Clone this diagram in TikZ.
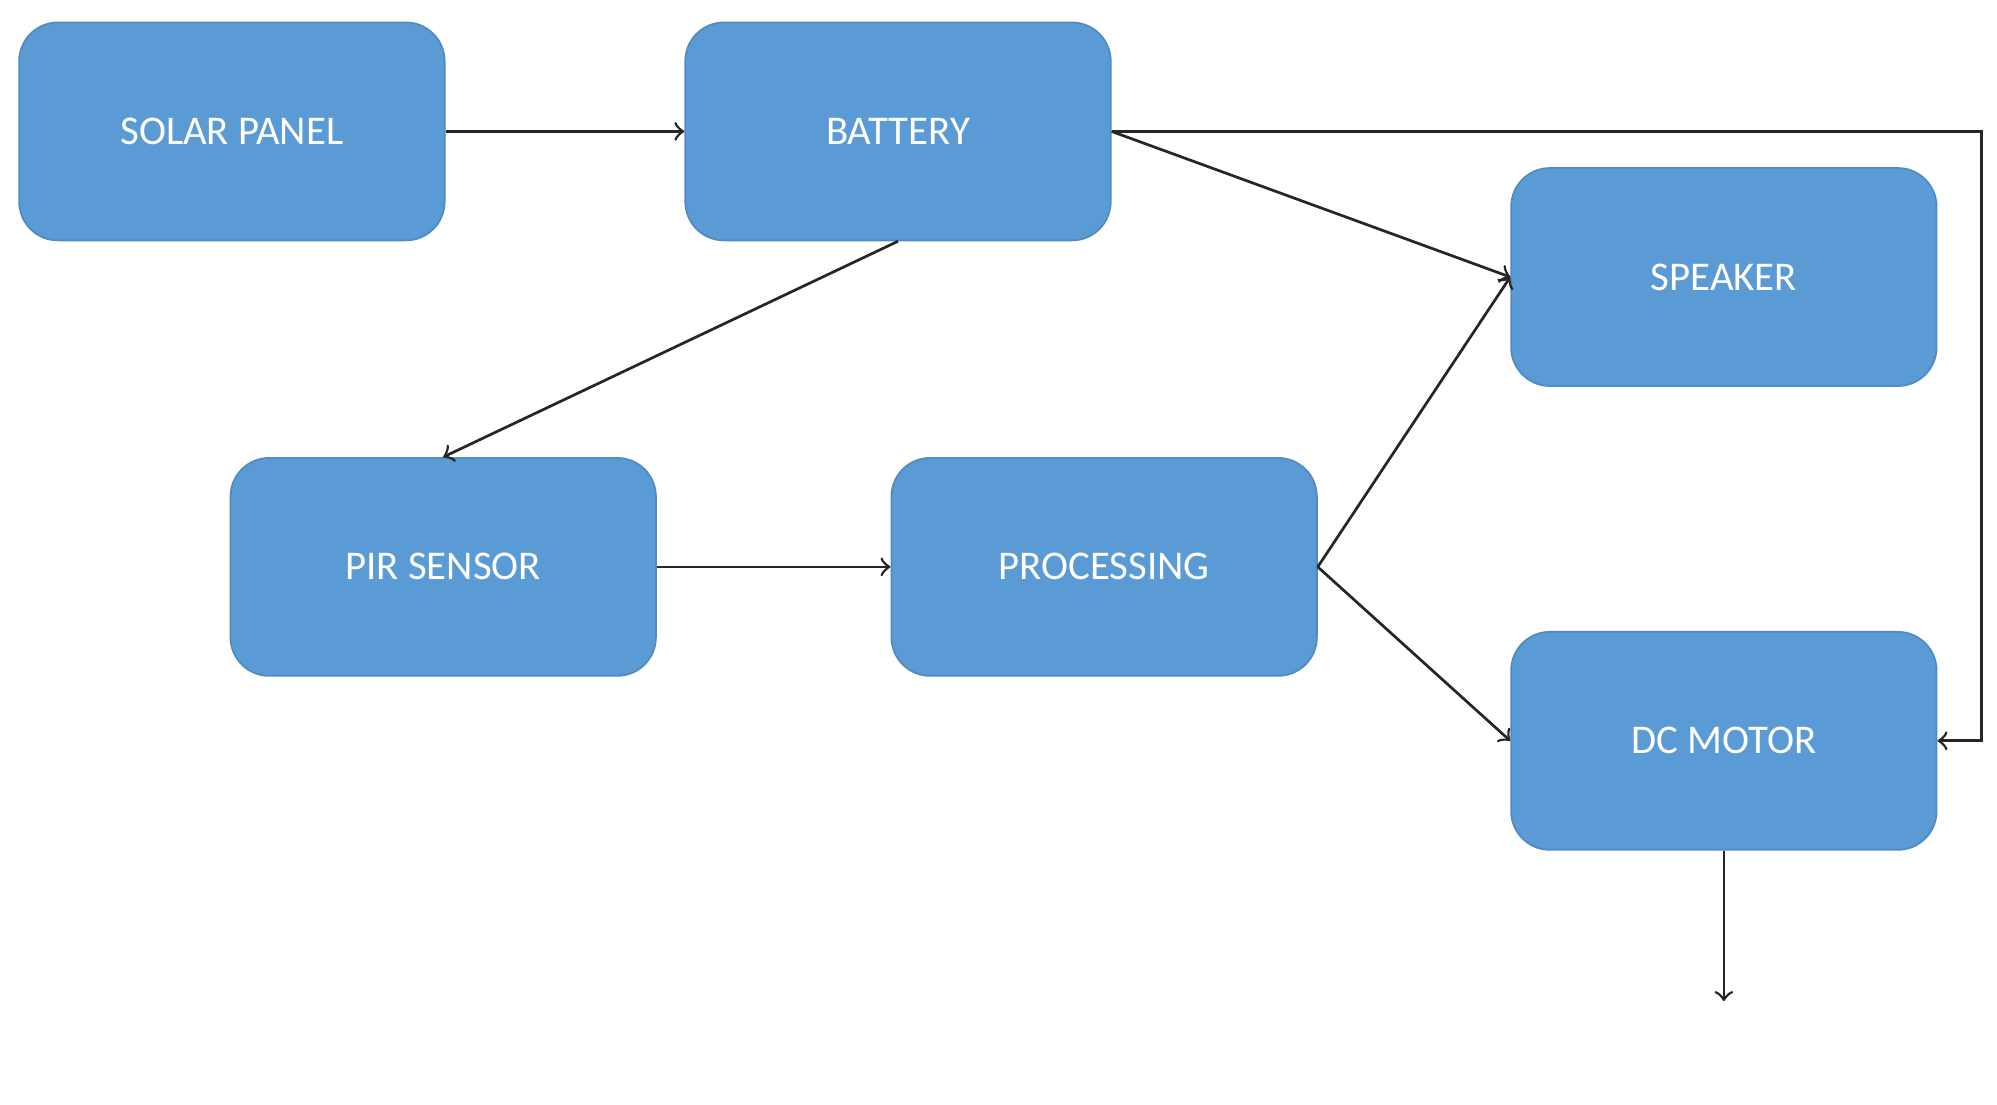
\documentclass[tikz,border=0pt]{standalone}
\usepackage{fontspec}
\setmainfont{Carlito}
\usetikzlibrary{positioning}
\definecolor{boxblue}{HTML}{5B9BD5}
\begin{document}
\begin{tikzpicture}[x=0.01cm, y=-0.01cm,
  block/.style={draw=boxblue!90!black, line width=0.4pt, fill=boxblue, rounded corners=0.3cm,
    minimum width=3.3cm, minimum height=1.69cm, text=white, font=\fontsize{9}{11}\selectfont},
  link/.style={->, line width=0.6pt, black!85}
]
\useasboundingbox (0,0) rectangle (1550,857);

\node (solar) [block] at (180,102) {SOLAR PANEL};
\node (battery) [block] at (697,102) {BATTERY};
\node (speaker) [block] at (1338,215) {SPEAKER};
\node (pir) [block] at (344,440) {PIR SENSOR};
\node (proc) [block] at (857,440) {PROCESSING};
\node (motor) [block] at (1338,575) {DC MOTOR};
\coordinate (out) at (1338,777);

\draw[link] (solar) -- (battery);
\draw[link] (battery.east) -- (speaker.west);
\draw[link] (battery.east) -- (1538,102) |- (motor.east);
\draw[link] (battery.south) -- (pir.north);
\draw[link] (pir) -- (proc);
\draw[link] (proc.east) -- (speaker.west);
\draw[link] (proc.east) -- (motor.west);
\draw[link] (motor) -- (out);

\end{tikzpicture}
\end{document}
